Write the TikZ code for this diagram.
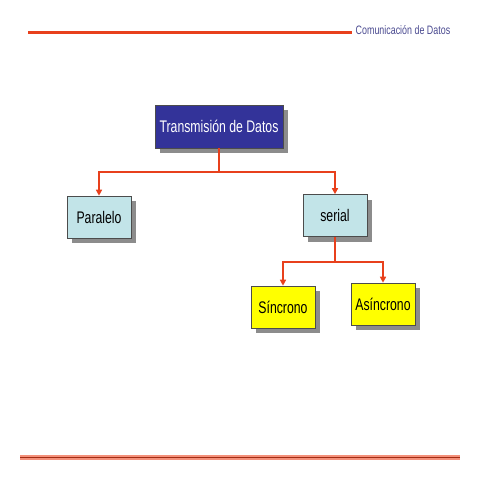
\documentclass[tikz,border=0pt]{standalone}
\usepackage{fontspec}
\setmainfont{Liberation Sans}
\newfontfamily\condfont[FakeStretch=0.73]{Liberation Sans}
\usetikzlibrary{arrows.meta,shadows}
\definecolor{navy}{HTML}{333399}
\definecolor{lblue}{HTML}{C2E4E8}
\definecolor{yel}{HTML}{FFFF00}
\definecolor{rline}{HTML}{E8401C}
\definecolor{hdr}{HTML}{4A4A90}
\definecolor{salmon}{HTML}{F4907A}
\tikzset{
  box/.style={draw=black!70, line width=0.6pt, minimum width=64pt, minimum height=42pt, inner sep=0pt,
    font=\condfont\fontsize{16.8}{17}\selectfont, drop shadow={shadow xshift=5pt, shadow yshift=-5pt, fill=black!45, opacity=1}},
  conn/.style={rline, line width=1.6pt},
  arr/.style={conn, -{Triangle[length=6pt,width=6pt]}},
}
\begin{document}
\begin{tikzpicture}[x=1pt,y=-1pt]
\useasboundingbox (0,0) rectangle (480,480);
% header
\draw[rline, line width=3pt] (28,32) -- (352,32);
\node[anchor=west, inner sep=0pt, text=hdr, font=\condfont\fontsize{12.2}{12}\selectfont] (hdr) at (355.5,30) {Comunicación de Datos};
% footer
\draw[salmon, line width=5pt] (20,457) -- (460,457);
\draw[rline!70!black, line width=0.8pt] (20,457) -- (460,457);
% boxes
\node[box, fill=navy, text=white, minimum width=128pt, minimum height=43pt] (top) at (219,126.5) {Transmisión de Datos};
\node[box, fill=lblue] (par) at (99,217) {Paralelo};
\node[box, fill=lblue] (ser) at (335,215.5) {serial};
\node[box, fill=yel] (sin) at (283,307) {Síncrono};
\node[box, fill=yel] (asin) at (383,304) {Asíncrono};
% connectors
\coordinate (j1) at (219,172);
\coordinate (j2) at (335,262);
\draw[conn] (top.south) -- (j1);
\draw[arr] (j1) -| (par.north);
\draw[arr] (j1) -| (ser.north);
\draw[conn] (ser.south) -- (j2);
\draw[arr] (j2) -| (sin.north);
\draw[arr] (j2) -| (asin.north);
\end{tikzpicture}
\end{document}
